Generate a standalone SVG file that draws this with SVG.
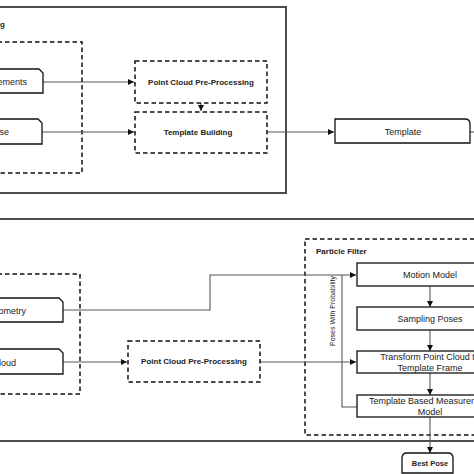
<svg xmlns="http://www.w3.org/2000/svg" width="474" height="474" viewBox="0 0 474 474">
<style>
.outer{fill:none;stroke:#4d4d4d;stroke-width:2}
.dash{fill:#fff;stroke:#111;stroke-width:1.5;stroke-dasharray:4.5,3}
.dashn{fill:none;stroke:#111;stroke-width:1.5;stroke-dasharray:4.5,3}
.box{fill:#fff;stroke:#111;stroke-width:1.3}
.con{fill:none;stroke:#555;stroke-width:1.1}
text{font-family:"Liberation Sans",Arial,sans-serif;fill:#222}
.t{font-size:9px}
.b{font-size:8px;font-weight:bold}
.c{text-anchor:middle}
</style>
<defs>
<marker id="ah" markerUnits="userSpaceOnUse" markerWidth="7" markerHeight="6" refX="6" refY="3" orient="auto">
<path d="M0,0 L6,3 L0,6 Z" fill="#111"/>
</marker>
</defs>
<rect width="474" height="474" fill="#fff"/>

<g id="top-section">
<rect class="outer" x="-10" y="7" width="296" height="186"/>
<text class="b" x="5" y="27" text-anchor="end">ng</text>
</g>
<g id="bottom-section">
<rect class="outer" x="-10" y="219" width="500" height="222"/>
</g>

<g id="top-inputs">
<rect class="dashn" x="-10" y="42" width="92" height="131"/>
</g>
<g id="bottom-inputs">
<rect class="dashn" x="-10" y="274" width="90" height="120"/>
</g>
<g id="particle-filter">
<rect class="dashn" x="305" y="239" width="190" height="196"/>
<text class="b" x="316" y="254">Particle Filter</text>
</g>

<g id="connectors">
<path class="con" d="M43,82 H134" marker-end="url(#ah)"/>
<path class="con" d="M42,132 H134" marker-end="url(#ah)"/>
<path class="con" d="M201,103 V111" marker-end="url(#ah)"/>
<path class="con" d="M267,132 H334" marker-end="url(#ah)"/>
<path class="con" d="M470,132 H474"/>
<path class="con" d="M63,310 H210 V275 H356" marker-end="url(#ah)"/>
<path class="con" d="M63,362 H127" marker-end="url(#ah)"/>
<path class="con" d="M260,362 H356" marker-end="url(#ah)"/>
<path class="con" d="M430,286 V307" marker-end="url(#ah)"/>
<path class="con" d="M430,330 V351" marker-end="url(#ah)"/>
<path class="con" d="M430,373 V395" marker-end="url(#ah)"/>
<path class="con" d="M430,417 V453" marker-end="url(#ah)"/>
<path class="con" d="M357,407 H342 V275"/>
<text class="c" font-size="7" transform="translate(335,311) rotate(-90)">Poses With Probability</text>
</g>

<g id="measurements">
<path class="box" d="M-10,69 H39 L43,73 V93 H-10 Z"/>
<text class="t" x="27" y="85" text-anchor="end">ements</text>
</g>
<g id="pose">
<path class="box" d="M-10,119 H38 L42,123 V144 H-10 Z"/>
<text class="t" x="9" y="135" text-anchor="end">se</text>
</g>
<g id="pcpp-top">
<rect class="dash" x="135" y="61" width="132" height="42"/>
<text class="b c" x="201" y="85">Point Cloud Pre-Processing</text>
</g>
<g id="template-building">
<rect class="dash" x="135" y="112" width="132" height="41"/>
<text class="b c" x="198" y="135">Template Building</text>
</g>
<g id="template">
<path class="box" d="M335,119 H465 Q470,119 470,124 V143 H335 Z"/>
<text class="t c" x="403" y="135">Template</text>
</g>

<g id="odometry">
<path class="box" d="M-10,298 H59 L63,302 V322 H-10 Z"/>
<text class="t" x="26" y="314" text-anchor="end">ometry</text>
</g>
<g id="point-cloud">
<path class="box" d="M-10,349 H59 L63,353 V374 H-10 Z"/>
<text class="t" x="16" y="366" text-anchor="end">loud</text>
</g>
<g id="pcpp-bottom">
<rect class="dash" x="128" y="341" width="132" height="41"/>
<text class="b c" x="194" y="364">Point Cloud Pre-Processing</text>
</g>

<g id="motion-model">
<rect class="box" x="357" y="263" width="146" height="23"/>
<text class="t c" x="430" y="278">Motion Model</text>
</g>
<g id="sampling-poses">
<rect class="box" x="357" y="307" width="146" height="23"/>
<text class="t c" x="430" y="322">Sampling Poses</text>
</g>
<g id="transform">
<rect class="box" x="357" y="351" width="146" height="22"/>
<text class="t c" x="430" y="360">Transform Point Cloud to</text>
<text class="t c" x="430" y="370.5">Template Frame</text>
</g>
<g id="measurement-model">
<rect class="box" x="357" y="395" width="146" height="22"/>
<text class="t c" x="430" y="404">Template Based Measurement</text>
<text class="t c" x="430" y="414.5">Model</text>
</g>
<g id="best-pose">
<path class="box" d="M402,473 V458 Q402,453 407,453 H448 Q453,453 453,458 V473 Z"/>
<text class="c" font-size="7.5" font-weight="bold" x="430" y="466">Best Pose</text>
</g>
</svg>
